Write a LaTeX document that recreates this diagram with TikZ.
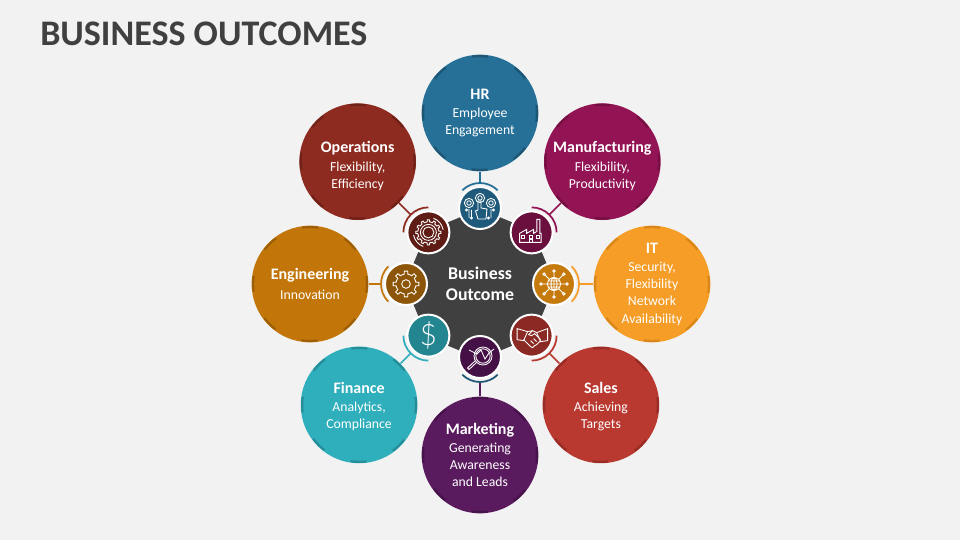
\documentclass[tikz,border=0pt]{standalone}
\usepackage{fontspec}
\setmainfont{Carlito}
\newfontfamily\thinfont{Lato Light}
\usepackage{xcolor}
\usetikzlibrary{calc, shapes.geometric, backgrounds}

\definecolor{pagegray}{HTML}{F2F2F2}
\definecolor{hubgray}{HTML}{404040}
\definecolor{titlegray}{HTML}{404040}
\definecolor{hrblue}{HTML}{266F96}
\definecolor{hrdark}{HTML}{1E5674}
\definecolor{hrdeep}{HTML}{1F5A7D}
\definecolor{mfgred}{HTML}{921454}
\definecolor{mfgdark}{HTML}{750F43}
\definecolor{mfgdeep}{HTML}{6A0F3E}
\definecolor{itorange}{HTML}{F59D27}
\definecolor{itdark}{HTML}{D9861A}
\definecolor{itdeep}{HTML}{C67A0C}
\definecolor{salesred}{HTML}{B93830}
\definecolor{salesdark}{HTML}{982C26}
\definecolor{salesdeep}{HTML}{8B2A24}
\definecolor{mktpurple}{HTML}{5A1A5E}
\definecolor{mktdark}{HTML}{47134B}
\definecolor{mktdeep}{HTML}{451045}
\definecolor{fincyan}{HTML}{2FAEBB}
\definecolor{findark}{HTML}{258D98}
\definecolor{findeep}{HTML}{238590}
\definecolor{engamber}{HTML}{C27508}
\definecolor{engdark}{HTML}{9C5E06}
\definecolor{engdeep}{HTML}{8C5507}
\definecolor{opsbrick}{HTML}{8E2B20}
\definecolor{opsdark}{HTML}{6F2118}
\definecolor{opsdeep}{HTML}{5E1C15}

% heading line of a circle; the optional rule pushes the text block down
\newcommand{\petalhead}[2][0pt]{\rule{0pt}{#1}{\bfseries\fontsize{12}{13}\selectfont #2}\\[0.8pt]}
% gear outline: teeth, inner radius, outer radius
\newcommand{\cogglyph}[3]{%
    \foreach \n in {1,...,#1} {
        \pgfmathsetmacro\cogstep{360/#1}
        \pgfmathsetmacro\cogang{\n*\cogstep}
        \draw[glyph] ({\cogang-0.5*\cogstep}:#2) -- ({\cogang-0.24*\cogstep}:#2)
            -- ({\cogang-0.16*\cogstep}:#3) -- ({\cogang+0.16*\cogstep}:#3)
            -- ({\cogang+0.24*\cogstep}:#2) -- ({\cogang+0.5*\cogstep}:#2);
    }}

\begin{document}
\begin{tikzpicture}[
        x=0.75pt, y=0.75pt,
        hub/.style={regular polygon, regular polygon sides=8, shape border rotate=22.5,
            fill=hubgray, text=white, inner sep=0pt, minimum size=112.5pt, align=center,
            font=\bfseries\fontsize{13.4}{16}\selectfont},
        petal/.style={circle, inner sep=0pt, minimum size=87.5pt, text=white, align=center,
            font=\fontsize{10.3}{12.9}\selectfont,
            path picture={\draw[#1, line width=1.6pt, dash pattern=on 12pt off 21.46pt, dash phase=6pt]
                (path picture bounding box.center) circle (42.7pt);}},
        badge/.style={circle, draw=white, line width=1.5pt, inner sep=0pt, minimum size=31.5pt,
            text=white},
        stem/.style={line width=1.3pt, shorten >=2.5pt},
        halo/.style={line width=1.3pt},
        glyph/.style={draw=white, line width=0.65pt},
    ]
    \useasboundingbox[fill=pagegray] (0,0) rectangle (960,540);

    % 1. Title
    \node[anchor=west, inner sep=0pt, text=titlegray, font=\bfseries\fontsize{27}{30}\selectfont]
        (title) at (40,506) {BUSINESS OUTCOMES};

    % 2. Centre
    \node[hub] (hub) at (480,256) {Business\\Outcome};

    % 3. Outer circles
    \node[petal=hrdark, fill=hrblue] (hr) at ($(hub)+(90:171)$)
        {\petalhead{HR}Employee\\Engagement};
    \node[petal=mfgdark, fill=mfgred] (mfg) at ($(hub)+(45:173)$)
        {\petalhead[15pt]{Manufacturing}Flexibility,\\Productivity};
    \node[petal=itdark, fill=itorange] (it) at ($(hub)+(0:172)$)
        {\petalhead{IT}Security,\\Flexibility\\Network\\Availability};
    \node[petal=salesdark, fill=salesred] (sales) at ($(hub)+(-45:171)$)
        {\petalhead[11pt]{Sales}Achieving\\Targets};
    \node[petal=mktdark, fill=mktpurple] (mkt) at ($(hub)+(-90:171)$)
        {\petalhead{Marketing}Generating\\Awareness\\and Leads};
    \node[petal=findark, fill=fincyan] (fin) at ($(hub)+(-135:171)$)
        {\petalhead[11pt]{Finance}Analytics,\\Compliance};
    \node[petal=engdark, fill=engamber] (eng) at ($(hub)+(180:170)$)
        {\petalhead{Engineering}\\[-11pt]Innovation};
    \node[petal=opsdark, fill=opsbrick] (ops) at ($(hub)+(135:173)$)
        {\petalhead[15pt]{Operations}Flexibility,\\Efficiency};

    % 4. Icon circles
    \node[badge, fill=hrdeep] (hr_icon) at ($(hub)+(90:76)$) {};
    \node[badge, fill=mfgdeep] (mfg_icon) at ($(hub)+(45:73)$) {};
    \node[badge, fill=itdeep] (it_icon) at ($(hub)+(0:74)$) {};
    \node[badge, fill=salesdeep] (sales_icon) at ($(hub)+(-45:73)$) {};
    \node[badge, fill=mktdeep] (mkt_icon) at ($(hub)+(-90:73)$) {};
    \node[badge, fill=findeep, font=\thinfont\fontsize{22}{22}\selectfont] (fin_icon) at ($(hub)+(-135:73)$) {\$};
    \node[badge, fill=engdeep] (eng_icon) at ($(hub)+(180:74)$) {};
    \node[badge, fill=opsdeep] (ops_icon) at ($(hub)+(135:73)$) {};

    % --- Stems ---
    \draw[stem, draw=hrblue] (hr) -- (hr_icon);
    \draw[stem, draw=mfgred] (mfg) -- (mfg_icon);
    \draw[stem, draw=itorange] (it) -- (it_icon);
    \draw[stem, draw=salesred] (sales) -- (sales_icon);
    \draw[stem, draw=mktpurple] (mkt) -- (mkt_icon);
    \draw[stem, draw=fincyan] (fin) -- (fin_icon);
    \draw[stem, draw=engamber] (eng) -- (eng_icon);
    \draw[stem, draw=opsbrick] (ops) -- (ops_icon);

    % --- Arcs ---
    \draw[halo, draw=hrblue] ([shift={(45:25)}]hr_icon.center) arc[start angle=45, end angle=135, radius=25];
    \draw[halo, draw=mfgred] ([shift={(0:25)}]mfg_icon.center) arc[start angle=0, end angle=90, radius=25];
    \draw[halo, draw=itorange] ([shift={(-45:25)}]it_icon.center) arc[start angle=-45, end angle=45, radius=25];
    \draw[halo, draw=salesred] ([shift={(-90:25)}]sales_icon.center) arc[start angle=-90, end angle=0, radius=25];
    \draw[halo, draw=hrdark] ([shift={(-135:25)}]mkt_icon.center) arc[start angle=-135, end angle=-45, radius=25];
    \draw[halo, draw=fincyan] ([shift={(-180:25)}]fin_icon.center) arc[start angle=-180, end angle=-90, radius=25];
    \draw[halo, draw=engamber] ([shift={(135:25)}]eng_icon.center) arc[start angle=135, end angle=225, radius=25];
    \draw[halo, draw=opsbrick] ([shift={(90:25)}]ops_icon.center) arc[start angle=90, end angle=180, radius=25];

    % --- Glyphs ---
    % HR
    \begin{scope}[shift={(hr_icon.center)}]
        \draw[glyph] (0,10) circle (4.6) (0,10) circle (2.2);
        \draw[glyph] (-11,5) circle (4.6) (-11,5) circle (2.2);
        \draw[glyph] (11,5) circle (4.6) (11,5) circle (2.2);
        \draw[glyph] (-2,-11) -- (-4.5,-3) -- (-2,-2) -- (-2,7) -- (1,7) -- (1,0) -- (7,-1) -- (6,-11) -- cycle;
        \draw[glyph] (-11,-1) -- (-11,-10) (-13.5,-2) circle (0.9) (-8.5,-10) circle (0.9) (-8.5,-9) -- (-8.5,-2);
        \draw[glyph] (11,-1) -- (11,-10) (13.5,-2) circle (0.9) (8.5,-10) circle (0.9);
    \end{scope}
    % Manufacturing
    \begin{scope}[shift={(mfg_icon.center)}]
        \draw[glyph] (-12,-10) -- (-12,-1) -- (-5,3) -- (-5,-1) -- (2,3) -- (2,-1) -- (5.3,1) -- (5.3,13)
            -- (8.3,13) -- (8.3,-1) -- (9.5,-1) -- (9.5,-10) -- cycle;
        \draw[glyph] (-10,-3) rectangle (-7,-6) (5,-3) rectangle (8,-6) (-2.5,-3) rectangle (0.5,-6);
        \draw[glyph] (-2.5,-10) -- (-2.5,-7.5) -- (1,-7.5) -- (1,-10);
    \end{scope}
    % IT
    \begin{scope}[shift={(it_icon.center)}]
        \draw[glyph] (0,0) circle (6.5) (0,0) ellipse (3 and 6.5) (-6.5,0) -- (6.5,0)
            (-5.6,3) -- (5.6,3) (-5.6,-3) -- (5.6,-3) (0,6.5) -- (0,-6.5);
        \foreach \a/\r in {0/13, 45/14, 90/13, 135/14, 180/13, 225/14, 270/13, 315/14} {
            \draw[glyph] (\a:6.5) -- (\a:\r-1.3) (\a:\r) circle (1.3);
        }
    \end{scope}
    % Sales
    \begin{scope}[shift={(sales_icon.center)}]
        \draw[glyph] (-14.5,7) -- (-4,4) -- (-8,-5) -- (-14.5,-4) -- cycle;
        \draw[glyph] (16,7) -- (5,3) -- (9,-6) -- (16,-5) -- cycle;
        \draw[glyph] (-4,4) -- (1,5) -- (5,3) (1,5) -- (-3,1) -- (0,0) -- (3,2) -- (9,-4);
        \draw[glyph] (-8,-4) -- (-1,-11) -- (1,-12) -- (3,-10) -- (5,-9) -- (9,-5);
        \draw[glyph] (-1,-5) -- (2,-8) (2,-3) -- (5,-6);
    \end{scope}
    % Marketing
    \begin{scope}[shift={(mkt_icon.center)}]
        \draw[glyph] (3,1) circle (9) (3,1) circle (7.2);
        \draw[glyph] (-3.5,-5.5) -- (-11,-12.5) -- (-12.5,-11) -- (-5,-4);
        \draw[glyph] (-11,7) -- (-3,3) -- (1,7) -- (5,-2) -- (9,4) -- (14,8);
    \end{scope}
    % Engineering
    \begin{scope}[shift={(eng_icon.center)}]
        \cogglyph{8}{10}{13}
        \draw[glyph] (0,0) circle (4.3);
    \end{scope}
    % Operations
    \begin{scope}[shift={(ops_icon.center)}]
        \cogglyph{12}{10.5}{12.5}
        \draw[glyph] (0,0) circle (8) (0,0) circle (5.5);
        \draw[glyph] (70:15) arc[start angle=70, end angle=10, radius=15];
        \draw[glyph] (250:15) arc[start angle=250, end angle=190, radius=15];
    \end{scope}
\end{tikzpicture}
\end{document}
